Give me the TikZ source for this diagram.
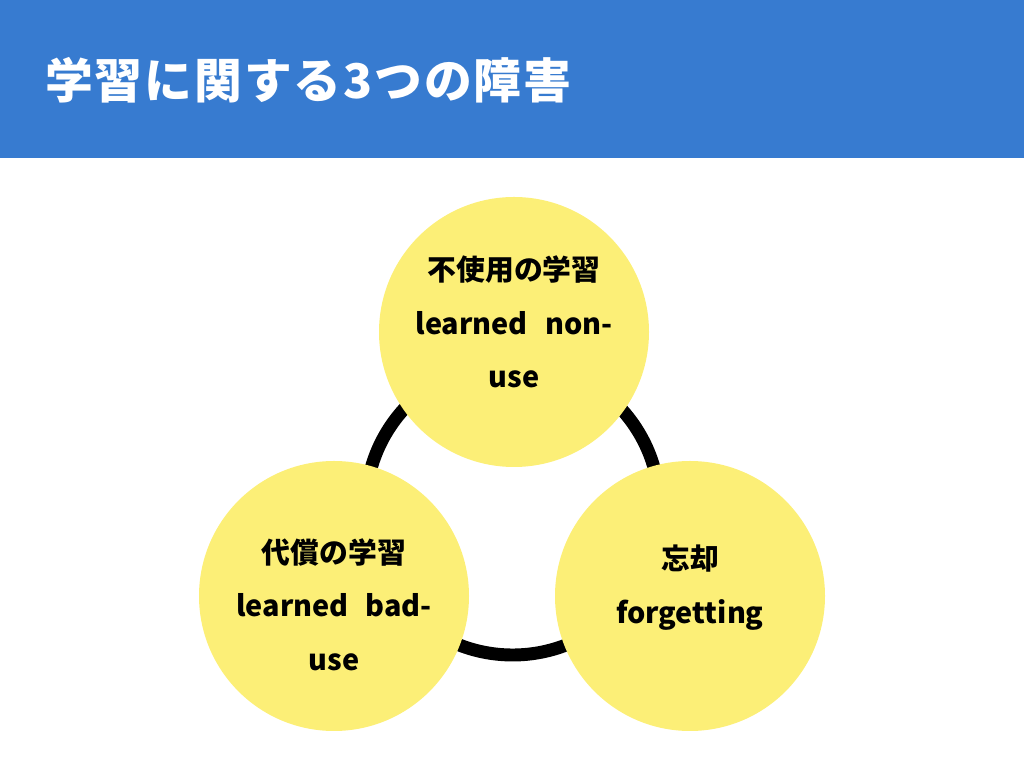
\documentclass[tikz,border=0pt]{standalone}
\usepackage{fontspec}
\setmainfont{Noto Sans CJK JP}
\usetikzlibrary{calc, backgrounds}
\definecolor{bandblue}{HTML}{377BD0}
\definecolor{padyellow}{HTML}{FCEF77}
\tikzset{
  titletext/.style = {font=\bfseries\fontsize{34}{40}\selectfont\addfontfeature{LetterSpace=4},
                      text=white, anchor=west, inner sep=0pt},
  hurdle/.style    = {circle, fill=padyellow, minimum size=6.75cm, inner sep=0pt},
  hurdletext/.style= {align=center, text=black, inner sep=0pt,
                      font=\bfseries\fontsize{20.5}{38}\selectfont},
  ring/.style      = {line width=9.2pt, draw=black},
}
\newcommand{\wgap}{\hspace{0.6em}}

\begin{document}
\begin{tikzpicture}
\useasboundingbox (0,0) rectangle (25.6,19.2);

% =============== HEADER ===============
\fill[bandblue] (0,15.25) rectangle (25.6,19.2);
\node (title) [titletext] at (1.125,17.2) {学習に関する3つの障害};

% =============== THREE HURDLES ===============
\node (nonuse) [hurdle] at (12.85,10.9) {};
\node (baduse) [hurdle] at (8.35,4.3)   {};
\node (forget) [hurdle] at (17.25,4.3)  {};

\node (nonuse-txt) [hurdletext, yshift=7pt]  at (nonuse) {不使用の学習\\learned\wgap non-\\use};
\node (baduse-txt) [hurdletext, yshift=-6pt] at (baduse) {代償の学習\\learned\wgap bad-\\use};
\node (forget-txt) [hurdletext, yshift=6pt]  at (forget) {忘却\\forgetting};

% ring through the three circles
\begin{scope}[on background layer]
  \coordinate (hub) at (barycentric cs:nonuse=1,baduse=1,forget=1);
  \draw[ring] (hub) circle[radius=3.675];
\end{scope}

\end{tikzpicture}
\end{document}
